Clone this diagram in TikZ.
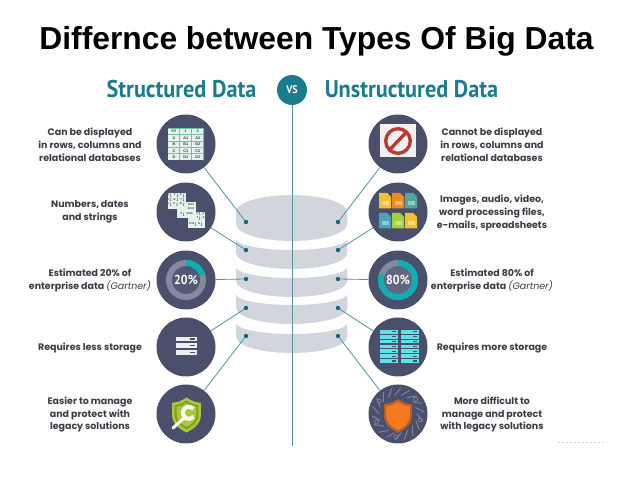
\documentclass[tikz,border=0pt]{standalone}
\usepackage{fontspec}
\usepackage{tikz}
\usepackage{xcolor}
\usetikzlibrary{shapes, positioning}
\setmainfont{Liberation Sans}
\newfontfamily\bodyfont{Poppins}
\newfontfamily\headfont[FakeStretch=0.92]{PT Sans}
\definecolor{slate}{HTML}{4A4F6C}
\definecolor{disc}{HTML}{D3D5DC}
\definecolor{headteal}{HTML}{1B7C90}
\definecolor{linkteal}{HTML}{4F949F}
\definecolor{dotteal}{HTML}{0F6A78}
\definecolor{ink}{HTML}{3B3C44}
\definecolor{ringgray}{HTML}{868A9E}
\definecolor{brightteal}{HTML}{10AEB0}
\definecolor{mint}{HTML}{E4F3EE}
\definecolor{gridgreen}{HTML}{72C2A8}
\definecolor{storecyan}{HTML}{62E2E6}
\definecolor{limeshield}{HTML}{A8C83C}
\definecolor{oliveshield}{HTML}{7E9C2C}
\definecolor{blockred}{HTML}{BC3A2E}
\definecolor{fileyellow}{HTML}{F2C12E}
\definecolor{fileorange}{HTML}{EF8A1F}
\definecolor{fileteal}{HTML}{4FA89C}
\definecolor{fileblue}{HTML}{4BA3B8}
\definecolor{filegreen}{HTML}{A9CF3A}
\definecolor{shieldorange}{HTML}{F47A20}
\definecolor{shieldbrown}{HTML}{B0602F}
\definecolor{doodle}{HTML}{7D839C}
\tikzset{
    iconcirc/.style={circle, fill=slate, minimum size=59pt, inner sep=0pt},
    tipdot/.style={circle, fill=dotteal, minimum size=4.4pt, inner sep=0pt},
    link/.style={draw=linkteal, line width=0.8pt},
    sidetext/.style={align=center, text=ink, inner sep=0pt, yshift=-0.6pt, font=\bodyfont\bfseries\fontsize{9.45}{12.8}\selectfont},
    headtext/.style={text=headteal, inner sep=0pt, font=\headfont\bfseries\fontsize{24.2}{26}\selectfont},
    tinytext/.style={text=ink, inner sep=0pt, font=\bfseries\fontsize{3.8}{4}\selectfont},
    sheettext/.style={text=ink, inner sep=0pt, align=center, font=\bfseries\fontsize{2.7}{4.4}\selectfont},
    percent/.style={text=white, inner sep=0pt, font=\headfont\bfseries\fontsize{13}{14}\selectfont}
}
\newcommand{\shieldshape}[4]{
    \fill[#4, shift={(#1,#2)}, scale=#3] (0,-17) .. controls (-6,-13) and (-10,-12) .. (-14,-12) -- (-14,0)
        .. controls (-14,9) and (-6,14) .. (0,17) .. controls (6,14) and (14,9) .. (14,0) -- (14,-12)
        .. controls (10,-12) and (6,-13) .. (0,-17) -- cycle;
}
\begin{document}
\begin{tikzpicture}[x=1pt, y=-1pt]
    \useasboundingbox (0,0) rectangle (638,478);

    \node[font=\bfseries\fontsize{31.8}{34}\selectfont, inner sep=0pt] (title) at (316.5,41) {Differnce between Types Of Big Data};
    \node[headtext] (headleft) at (181.5,89) {Structured Data};
    \node[headtext] (headright) at (411.5,89) {Unstructured Data};

    \fill[disc] (236,212) arc[start angle=180, end angle=0, x radius=55.6pt, y radius=17pt] -- (347.3,224)
        arc[start angle=360, end angle=180, x radius=55.6pt, y radius=17pt] -- cycle;
    \foreach \ys in {239,267,294,323} {
        \fill[disc] (236,\ys) arc[start angle=180, end angle=360, x radius=55.6pt, y radius=11pt] -- (347.3,\ys+14)
            arc[start angle=360, end angle=180, x radius=55.6pt, y radius=16pt] -- cycle;
    }

    \node[circle, fill=headteal, minimum size=30pt, inner sep=0pt, text=white, font=\headfont\bfseries\fontsize{11}{12}\selectfont] (vs) at (292,90) {VS};
    \coordinate (axisend) at (292,446);
    \draw[draw=linkteal, line width=1pt] (vs) -- (axisend);

    \foreach \i/\yc/\yd in {1/144/222, 2/212/250, 3/280/279, 4/347/308, 5/414/336} {
        \node[iconcirc] (sl\i) at (186,\yc) {};
        \node[iconcirc] (un\i) at (398,\yc) {};
        \node[tipdot] (dl\i) at (246,\yd) {};
        \node[tipdot] (dr\i) at (338,\yd) {};
        \draw[link] (sl\i) -- (dl\i);
        \draw[link] (un\i) -- (dr\i);
    }

    \node[sidetext] (tl1) at (90,144) {Can be displayed\\in rows, columns and\\relational databases};
    \node[sidetext] (tl2) at (90,211) {Numbers, dates\\and strings};
    \node[sidetext] (tl3) at (90,279.5) {Estimated 20\% of\\enterprise data \textit{\mdseries (Gartner)}};
    \node[sidetext] (tl4) at (90,347) {Requires less storage};
    \node[sidetext] (tl5) at (90,414) {Easier to manage\\and protect with\\legacy solutions};
    \node[sidetext] (tr1) at (492,144) {Cannot be displayed\\in rows, columns and\\relational databases};
    \node[sidetext] (tr2) at (492,212.5) {Images, audio, video,\\word processing files,\\e-mails, spreadsheets};
    \node[sidetext] (tr3) at (492,279.5) {Estimated 80\% of\\enterprise data \textit{\mdseries (Gartner)}};
    \node[sidetext] (tr4) at (492,347) {Requires more storage};
    \node[sidetext] (tr5) at (492,414) {More difficult to\\manage and protect\\with legacy solutions};

    % table icon
    \fill[gridgreen] (167.7,128) rectangle (203.5,160.5);
    \foreach \a/\b/\c [count=\r from 0] in {XY/1/2, A/A1/A2, B/B1/B2, C/C1/C2, D/D1/D2} {
        \foreach \t [count=\k from 0] in {\a,\b,\c} {
            \fill[mint] (168.4+\k*11.9,128.7+\r*6.45) rectangle ++(10.9,5.4);
            \node[tinytext] (cell\r\k) at (173.9+\k*11.9,131.4+\r*6.45) {\t};
        }
    }

    % three sheets
    \fill[mint] (168,193) rectangle (186,209);
    \fill[mint] (177,202) rectangle (196,218);
    \fill[mint] (188,212) rectangle (205,228);
    \node[sheettext] (sheeta) at (176.5,200) {R$_1$,F$_1$,F$_1$\\S$_1$,R$_1$,T$_1$\\R$_1$,F$_1$,R$_1$};
    \node[sheettext] (sheetb) at (191,206.5) {2021\\2022};
    \node[sheettext] (sheetc) at (186.5,214.6) {X$_1$,0025};
    \node[sheettext] (sheetd) at (200.5,216.5) {F$_1$,2\\T$_1$,4};
    \node[sheettext] (sheete) at (196.5,224.5) {F=R$_1$R$_1$};

    % percent rings
    \fill[ringgray] (186,280) circle[radius=20pt];
    \fill[brightteal] (186,280) -- (186,260) arc[start angle=90, end angle=18, radius=20pt] -- cycle;
    \fill[slate!85!ringgray] (186,280) circle[radius=14pt];
    \node[percent] (pct20) at (186,280) {20\%};
    \fill[ringgray] (398,280) circle[radius=20pt];
    \fill[brightteal] (398,280) -- (398,260) arc[start angle=90, end angle=-198, radius=20pt] -- cycle;
    \fill[slate!60!ringgray] (398,280) circle[radius=14pt];
    \node[percent] (pct80) at (398,280) {80\%};

    % small storage
    \foreach \ys in {336.7,343.4,350} {
        \fill[white!90!slate] (176,\ys) rectangle (196.7,\ys+4.6);
        \fill[slate] (190,\ys+1.6) rectangle (195,\ys+3);
    }

    % large storage
    \foreach \r in {0,...,6} {
        \fill[storecyan] (380,330+\r*4.85) rectangle (398.3,333.8+\r*4.85);
        \fill[storecyan] (400.7,330+\r*4.85) rectangle (419,333.8+\r*4.85);
        \fill[slate] (392,331.3+\r*4.85) rectangle (396,332.5+\r*4.85);
        \fill[slate] (413,331.3+\r*4.85) rectangle (417,332.5+\r*4.85);
    }

    % green shield and wrench
    \shieldshape{186.5}{415}{1.03}{limeshield}
    \shieldshape{186.5}{415}{0.84}{oliveshield}
    \shieldshape{186.5}{415}{0.7}{limeshield}
    \draw[white!95!yellow, line width=3pt, line cap=round] (173,428) -- (184,418);
    \draw[white!95!yellow, line width=4pt] (193.5,409) arc[start angle=40, end angle=320, radius=6pt];

    % blocked table
    \fill[white!92!slate] (380,124) rectangle (415.7,157);
    \draw[blockred, line width=3.4pt] (398,141) circle[radius=12.3pt];
    \draw[blockred, line width=3.4pt] (389.5,150) -- (406.5,132);

    % files
    \foreach \xf/\yf/\colr in {379/193/fileyellow, 392/193/fileorange, 405/193/fileteal, 379/213/fileblue, 392/213/filegreen, 405/213/fileyellow} {
        \fill[\colr] (\xf,\yf) -- (\xf+8,\yf) -- (\xf+12,\yf+4) -- (\xf+12,\yf+15.5) -- (\xf,\yf+15.5) -- cycle;
        \fill[white, opacity=0.4] (\xf+2.5,\yf+8) rectangle (\xf+9.5,\yf+12);
    }

    % circuit doodles and orange shield
    \foreach \ang in {0,20,...,340} {
        \draw[doodle, line width=1pt, line cap=round] ({398+cos(\ang)*19},{414+sin(\ang)*19}) -- ({398+cos(\ang+16)*26},{414+sin(\ang+16)*26});
    }
    \foreach \ang in {15,95,160,215,320} {
        \draw[doodle, line width=0.8pt] ({398+cos(\ang)*23},{414+sin(\ang)*23}) circle[radius=2pt];
    }
    \shieldshape{398}{416}{1}{shieldbrown}
    \shieldshape{398}{416}{0.84}{shieldorange}

    \coordinate (dotsa) at (558,442.7);
    \coordinate (dotsb) at (607,442.7);
    \draw[disc, line width=1pt, dash pattern=on 1.5pt off 2.5pt] (dotsa) -- (dotsb);
\end{tikzpicture}
\end{document}
